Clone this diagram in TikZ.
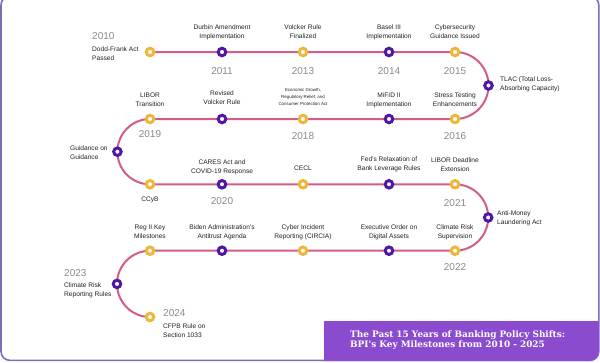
\documentclass[tikz,border=0pt]{standalone}
\usepackage{fontspec}
\setmainfont{Liberation Sans}
\newfontfamily\titlefont{DejaVu Serif}
\usetikzlibrary{backgrounds}
\definecolor{trackc}{HTML}{D65A8C}
\definecolor{goldc}{HTML}{EDB83A}
\definecolor{purpc}{HTML}{4E17A8}
\definecolor{yearc}{HTML}{8A8A8A}
\definecolor{labc}{HTML}{222222}
\definecolor{framec}{HTML}{7B6DB8}
\definecolor{titlec}{HTML}{8A4BCF}
\tikzset{
  gnode/.style={circle, draw=goldc, fill=white, line width=3pt, minimum size=7.5pt, inner sep=0pt},
  pnode/.style={circle, draw=purpc, fill=white, line width=3pt, minimum size=7.5pt, inner sep=0pt},
  lab/.style={font=\fontsize{6.6}{9}\selectfont, align=center, text=labc, inner sep=0pt},
  labl/.style={lab, align=left, anchor=west},
  tiny/.style={font=\fontsize{4.4}{7.3}\selectfont, align=center, text=labc, inner sep=0pt},
  yr/.style={font=\fontsize{10}{12}\selectfont, text=yearc, inner sep=0pt},
  yrl/.style={yr, anchor=west},
  track/.style={draw=trackc, line width=2pt},
  ttl/.style={font=\titlefont\bfseries\fontsize{8.9}{10}\selectfont, text=white, align=left, anchor=west, inner sep=0pt}
}
\begin{document}
\begin{tikzpicture}[x=1pt,y=1pt]
\useasboundingbox (0,0) rectangle (600,-362);
% nodes
% row 1
\node[gnode] (n1) at (150,-52) {};
\node[pnode] (n2) at (222,-52) {};
\node[gnode] (n3) at (303,-52) {};
\node[pnode] (n4) at (389,-52) {};
\node[gnode] (n5) at (455,-52) {};
\node[pnode] (t1) at (488.5,-85.5) {};
% row 2
\node[gnode] (n6) at (455,-119) {};
\node[pnode] (n7) at (389,-119) {};
\node[gnode] (n8) at (303,-119) {};
\node[pnode] (n9) at (222,-119) {};
\node[gnode] (n10) at (150,-119) {};
\node[pnode] (t2) at (117.4,-151.7) {};
% row 3
\node[gnode] (n11) at (150,-184.3) {};
\node[pnode] (n12) at (222,-184.3) {};
\node[gnode] (n13) at (303,-184.3) {};
\node[pnode] (n14) at (389,-184.3) {};
\node[gnode] (n15) at (455,-184.3) {};
\node[pnode] (t3) at (488.2,-217.5) {};
% row 4
\node[gnode] (n16) at (455,-250.7) {};
\node[pnode] (n17) at (389,-250.7) {};
\node[gnode] (n18) at (303,-250.7) {};
\node[pnode] (n19) at (222,-250.7) {};
\node[gnode] (n20) at (150,-250.7) {};
\node[pnode] (t4) at (117,-283.9) {};
\node[gnode] (n21) at (150,-317) {};

% labels row 1
\node[yrl] (y2010) at (92,-36) {2010};
\node[labl] (l1) at (92,-53.7) {Dodd-Frank Act\\Passed};
\node[lab] (l2) at (222,-32) {Durbin Amendment\\Implementation};
\node[yr] (y2011) at (222,-71) {2011};
\node[lab] (l3) at (303,-32) {Volcker Rule\\Finalized};
\node[yr] (y2013) at (303,-71) {2013};
\node[lab] (l4) at (389,-32) {Basel III\\Implementation};
\node[yr] (y2014) at (389,-71) {2014};
\node[lab] (l5) at (455,-32) {Cybersecurity\\Guidance Issued};
\node[yr] (y2015) at (455,-71) {2015};
\node[labl] (lt1) at (500,-84) {TLAC (Total Loss-\\Absorbing Capacity)};
% labels row 2
\node[lab] (l6) at (455,-99.5) {Stress Testing\\Enhancements};
\node[yr] (y2016) at (455,-136) {2016};
\node[lab] (l7) at (389,-100) {MiFID II\\Implementation};
\node[tiny] (l8) at (303,-97) {Economic Growth,\\Regulatory Relief, and\\Consumer Protection Act};
\node[yr] (y2018) at (303,-136) {2018};
\node[lab] (l9) at (222,-98) {Revised\\Volcker Rule};
\node[lab] (l10) at (150,-99.5) {LIBOR\\Transition};
\node[yr] (y2019) at (150,-134.5) {2019};
\node[labl] (lt2) at (70,-153) {Guidance on\\Guidance};
% labels row 3
\node[lab] (l11) at (150,-200) {CCyB};
\node[lab] (l12) at (222,-167) {CARES Act and\\COVID-19 Response};
\node[yr] (y2020) at (222,-200.7) {2020};
\node[lab] (l13) at (303,-168.5) {CECL};
\node[lab] (l14) at (389,-164.5) {Fed's Relaxation of\\Bank Leverage Rules};
\node[lab] (l15) at (455,-164.5) {LIBOR Deadline\\Extension};
\node[yr] (y2021) at (455,-202.7) {2021};
\node[labl] (lt3) at (497,-218) {Anti-Money\\Laundering Act};
% labels row 4
\node[lab] (l16) at (455,-232) {Climate Risk\\Supervision};
\node[yr] (y2022) at (455,-266.7) {2022};
\node[lab] (l17) at (389,-232) {Executive Order on\\Digital Assets};
\node[lab] (l18) at (303,-232) {Cyber Incident\\Reporting (CIRCIA)};
\node[lab] (l19) at (222,-232) {Biden Administration's\\Antitrust Agenda};
\node[lab] (l20) at (150,-232) {Reg II Key\\Milestones};
\node[yrl] (y2023) at (64,-273.3) {2023};
\node[labl] (lt4) at (64,-290.2) {Climate Risk\\Reporting Rules};
\node[yrl] (y2024) at (163,-313.3) {2024};
\node[labl] (l21) at (163,-330.7) {CFPB Rule on\\Section 1033};

% title
\fill[titlec] (324,-321) -- (598.8,-321) [rounded corners=9pt] -- (598.8,-361) [sharp corners] -- (324,-361) -- cycle;
\node[ttl] (title) at (350,-340) {The Past 15 Years of Banking Policy Shifts:\\BPI's Key Milestones from 2010 - 2025};

\begin{pgfonlayer}{background}
\draw[draw=framec, line width=1.6pt, rounded corners=9pt, fill=white] (1,4) rectangle (598.8,-360.4);
\draw[track] (n1.center) -- (n2.center) -- (n3.center) -- (n4.center) -- (n5.center)
  to[out=0,in=90] (t1.center) to[out=-90,in=0] (n6.center)
  -- (n7.center) -- (n8.center) -- (n9.center) -- (n10.center)
  to[out=180,in=90] (t2.center) to[out=-90,in=180] (n11.center)
  -- (n12.center) -- (n13.center) -- (n14.center) -- (n15.center)
  to[out=0,in=90] (t3.center) to[out=-90,in=0] (n16.center)
  -- (n17.center) -- (n18.center) -- (n19.center) -- (n20.center)
  to[out=180,in=90] (t4.center) to[out=-90,in=180] (n21.center);
\end{pgfonlayer}
\end{tikzpicture}
\end{document}
